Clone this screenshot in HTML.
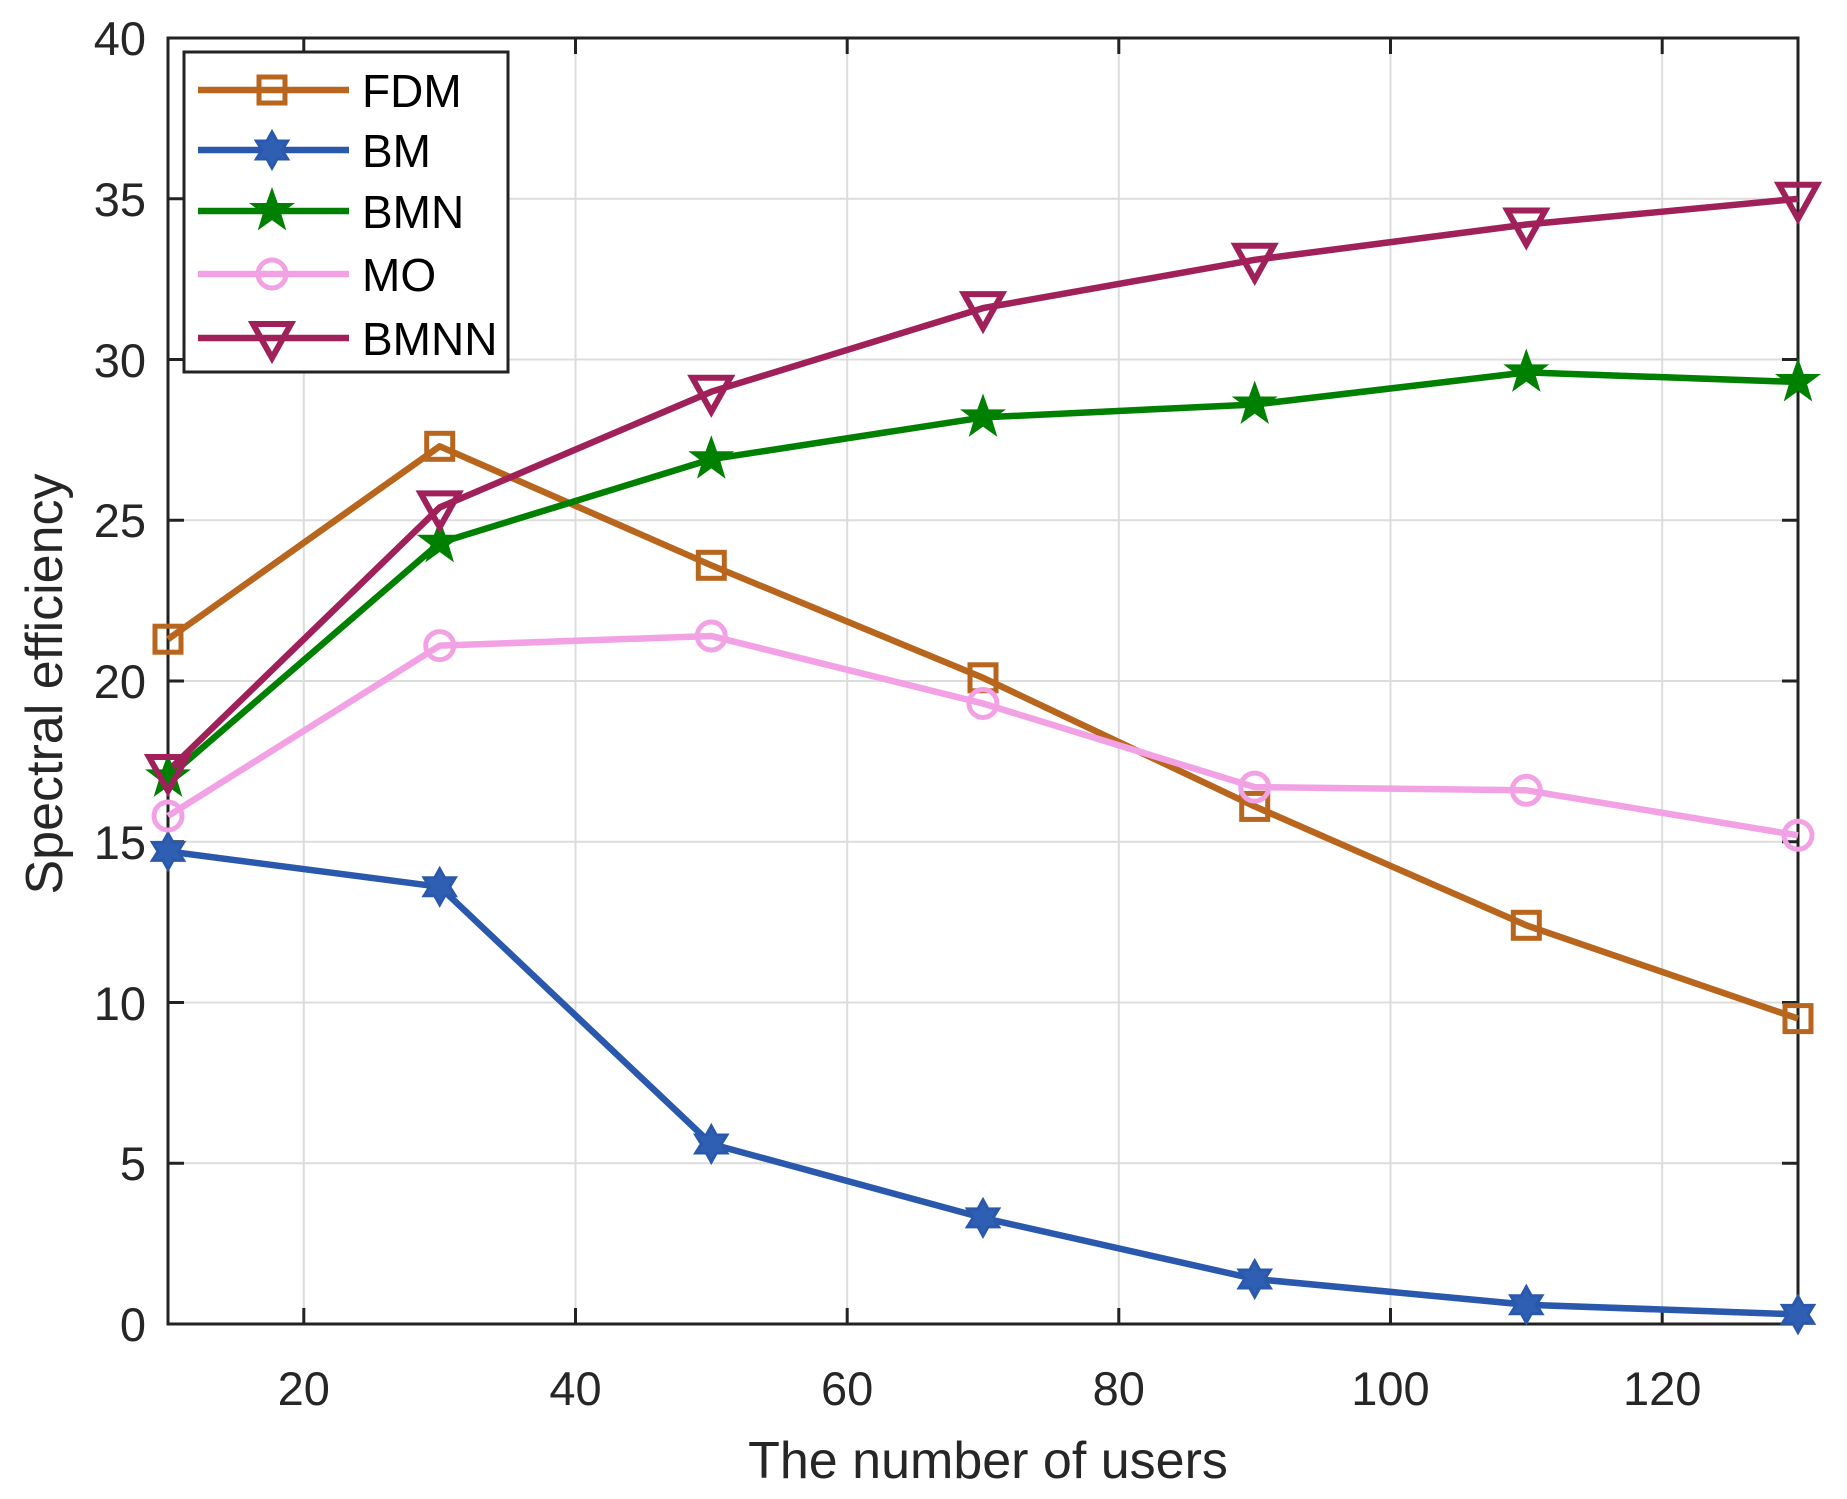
<!DOCTYPE html>
<html><head><meta charset="utf-8"><style>
html,body{margin:0;padding:0;background:#fff;}
svg{display:block;font-family:"Liberation Sans",Arial,sans-serif;}
</style></head><body>
<svg width="1847" height="1499" viewBox="0 0 1847 1499" xmlns="http://www.w3.org/2000/svg">
<defs>
<g id="sq"><rect x="-13" y="-13" width="26" height="26" fill="none" stroke="#b8651e" stroke-width="5"/></g>
<g id="hx"><polygon points="0,-18 5,-9 15.6,-9 10,0 15.6,9 5,9 0,18 -5,9 -15.6,9 -10,0 -15.6,-9 -5,-9" fill="#2f5fb3" stroke="#2a58ad" stroke-width="3"/></g>
<g id="st"><polygon points="0,-21 5,-7 20,-7 8,2 12.5,17 0,8 -12.5,17 -8,2 -20,-7 -5,-7" fill="#008000" stroke="#008000" stroke-width="2"/></g>
<g id="ci"><circle r="14" fill="none" stroke="#f2a2e4" stroke-width="5"/></g>
<g id="tr"><polygon points="-19,-14 19,-14 0,20" fill="none" stroke="#a0205a" stroke-width="6" stroke-linejoin="miter"/></g>
</defs>
<g stroke="#dcdcdc" stroke-width="2">
<line x1="303.8" y1="38" x2="303.8" y2="1324"/><line x1="575.5" y1="38" x2="575.5" y2="1324"/><line x1="847.2" y1="38" x2="847.2" y2="1324"/><line x1="1118.8" y1="38" x2="1118.8" y2="1324"/><line x1="1390.5" y1="38" x2="1390.5" y2="1324"/><line x1="1662.2" y1="38" x2="1662.2" y2="1324"/>
<line x1="168" y1="1163.25" x2="1798" y2="1163.25"/><line x1="168" y1="1002.5" x2="1798" y2="1002.5"/><line x1="168" y1="841.75" x2="1798" y2="841.75"/><line x1="168" y1="681" x2="1798" y2="681"/><line x1="168" y1="520.25" x2="1798" y2="520.25"/><line x1="168" y1="359.5" x2="1798" y2="359.5"/><line x1="168" y1="198.75" x2="1798" y2="198.75"/>
</g>
<g stroke="#222" stroke-width="3">
<path d="M303.8,1324v-16M575.5,1324v-16M847.2,1324v-16M1118.8,1324v-16M1390.5,1324v-16M1662.2,1324v-16M303.8,38v16M575.5,38v16M847.2,38v16M1118.8,38v16M1390.5,38v16M1662.2,38v16"/>
<path d="M168,1163.25h16M168,1002.5h16M168,841.75h16M168,681h16M168,520.25h16M168,359.5h16M168,198.75h16M1798,1163.25h-16M1798,1002.5h-16M1798,841.75h-16M1798,681h-16M1798,520.25h-16M1798,359.5h-16M1798,198.75h-16"/>
<rect x="168" y="38" width="1630" height="1286" fill="none"/>
</g>
<g fill="none" stroke-width="6.5" stroke-linejoin="round">
<polyline stroke="#b8651e" points="168,639.2 439.7,446.3 711.3,565.3 983,677.8 1254.7,806.4 1526.3,925.3 1798,1018.6"/>
<polyline stroke="#2a58ad" points="168,851.4 439.7,886.8 711.3,1144 983,1217.9 1254.7,1279 1526.3,1304.7 1798,1314.4"/>
<polyline stroke="#008000" points="168,777.4 439.7,542.8 711.3,459.2 983,417.4 1254.7,404.5 1526.3,372.4 1798,382"/>
<polyline stroke="#f2a2e4" points="168,816 439.7,645.6 711.3,636 983,703.5 1254.7,787.1 1526.3,790.3 1798,835.3"/>
<polyline stroke="#a0205a" points="168,771 439.7,507.4 711.3,391.7 983,308.1 1254.7,259.8 1526.3,224.5 1798,198.8"/>
</g>
<use href="#sq" x="168" y="639.2"/><use href="#sq" x="439.7" y="446.3"/><use href="#sq" x="711.3" y="565.3"/><use href="#sq" x="983" y="677.8"/><use href="#sq" x="1254.7" y="806.4"/><use href="#sq" x="1526.3" y="925.3"/><use href="#sq" x="1798" y="1018.6"/>
<use href="#hx" x="168" y="851.4"/><use href="#hx" x="439.7" y="886.8"/><use href="#hx" x="711.3" y="1144"/><use href="#hx" x="983" y="1217.9"/><use href="#hx" x="1254.7" y="1279"/><use href="#hx" x="1526.3" y="1304.7"/><use href="#hx" x="1798" y="1314.4"/>
<use href="#st" x="168" y="777.4"/><use href="#st" x="439.7" y="542.8"/><use href="#st" x="711.3" y="459.2"/><use href="#st" x="983" y="417.4"/><use href="#st" x="1254.7" y="404.5"/><use href="#st" x="1526.3" y="372.4"/><use href="#st" x="1798" y="382"/>
<use href="#ci" x="168" y="816"/><use href="#ci" x="439.7" y="645.6"/><use href="#ci" x="711.3" y="636"/><use href="#ci" x="983" y="703.5"/><use href="#ci" x="1254.7" y="787.1"/><use href="#ci" x="1526.3" y="790.3"/><use href="#ci" x="1798" y="835.3"/>
<use href="#tr" x="168" y="771"/><use href="#tr" x="439.7" y="507.4"/><use href="#tr" x="711.3" y="391.7"/><use href="#tr" x="983" y="308.1"/><use href="#tr" x="1254.7" y="259.8"/><use href="#tr" x="1526.3" y="224.5"/><use href="#tr" x="1798" y="198.8"/>
<g font-size="47" fill="#262626" text-anchor="end">
<text x="146" y="55">40</text><text x="146" y="216">35</text><text x="146" y="377">30</text><text x="146" y="537">25</text><text x="146" y="698">20</text><text x="146" y="859">15</text><text x="146" y="1020">10</text><text x="146" y="1180">5</text><text x="146" y="1341">0</text>
</g>
<g font-size="47" fill="#262626" text-anchor="middle">
<text x="303.8" y="1405">20</text><text x="575.5" y="1405">40</text><text x="847.2" y="1405">60</text><text x="1118.8" y="1405">80</text><text x="1390.5" y="1405">100</text><text x="1662.2" y="1405">120</text>
<text x="988" y="1478" font-size="52">The number of users</text>
<text transform="translate(62,684) rotate(-90)" font-size="52">Spectral efficiency</text>
</g>
<rect x="184" y="52" width="324" height="320" fill="#fff" stroke="#222" stroke-width="3"/>
<g stroke-width="6.5">
<line x1="198" y1="90" x2="349" y2="90" stroke="#b8651e"/><use href="#sq" x="272" y="90"/>
<line x1="198" y1="150" x2="349" y2="150" stroke="#2a58ad"/><use href="#hx" x="272" y="150"/>
<line x1="198" y1="211" x2="349" y2="211" stroke="#008000"/><use href="#st" x="272" y="211"/>
<line x1="198" y1="274" x2="349" y2="274" stroke="#f2a2e4"/><use href="#ci" x="272" y="274"/>
<line x1="198" y1="338" x2="349" y2="338" stroke="#a0205a"/><use href="#tr" x="272" y="338"/>
</g>
<g font-size="46" fill="#000">
<text x="362" y="107">FDM</text><text x="362" y="167">BM</text><text x="362" y="228">BMN</text><text x="362" y="291">MO</text><text x="362" y="355">BMNN</text>
</g>
</svg>
</body></html>
